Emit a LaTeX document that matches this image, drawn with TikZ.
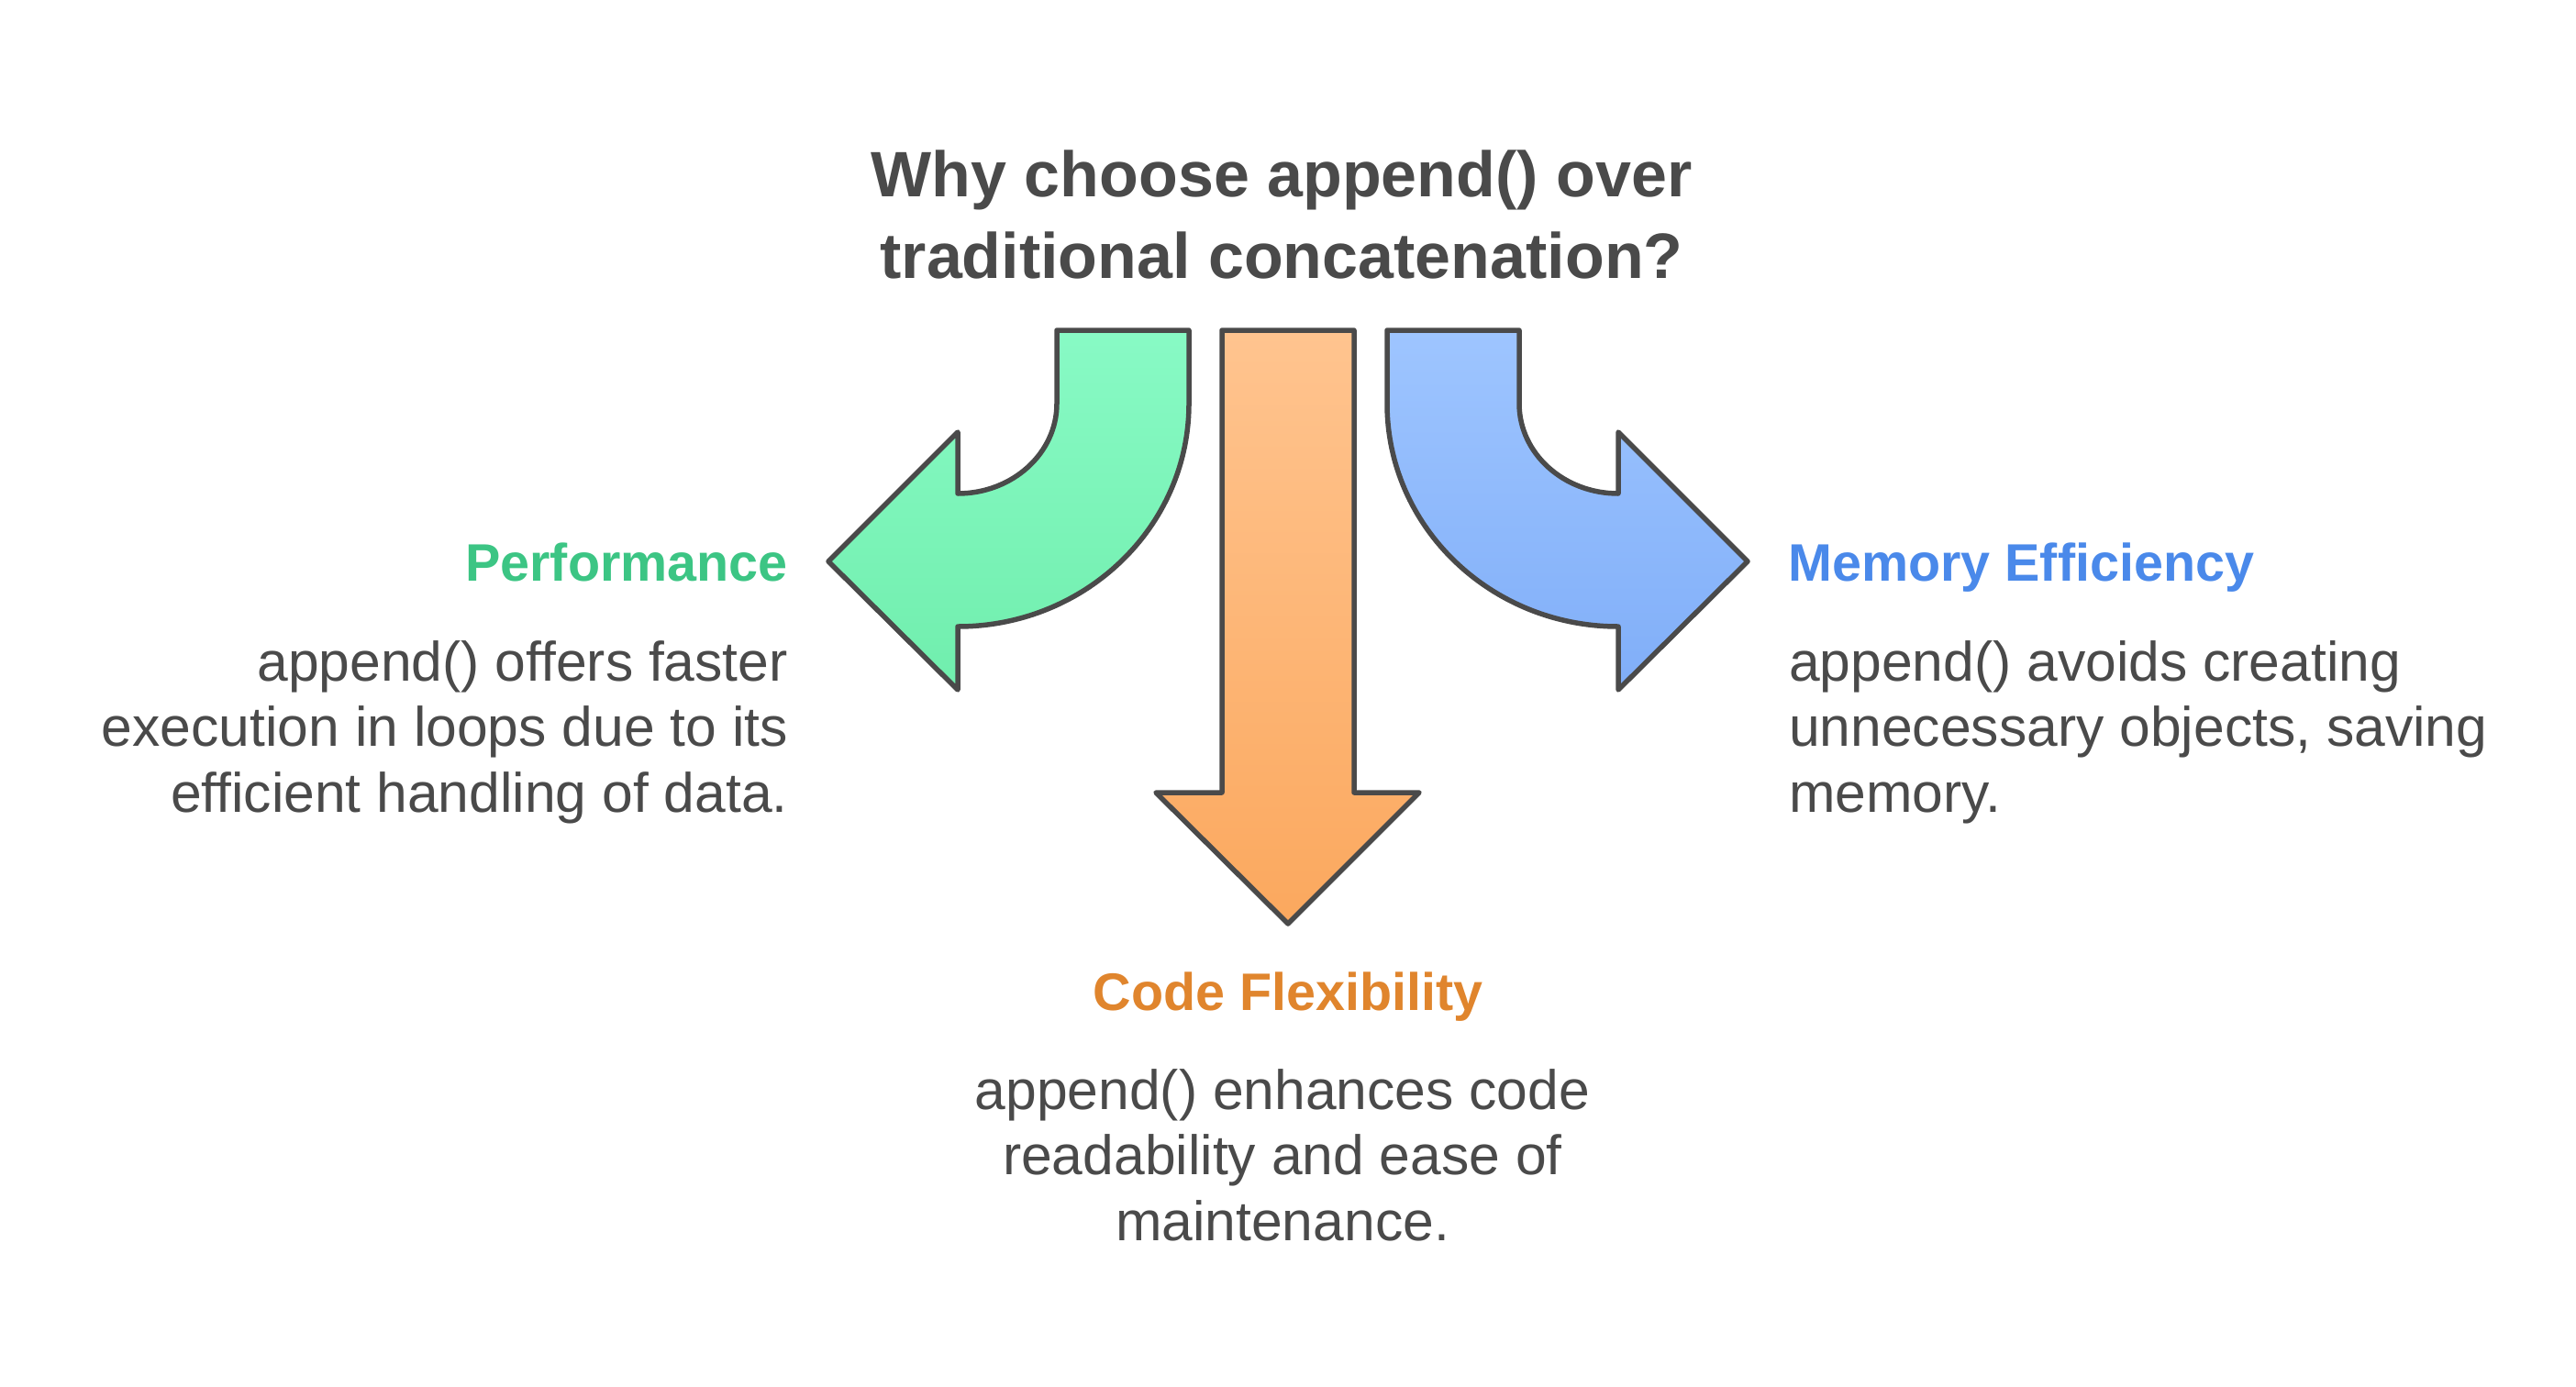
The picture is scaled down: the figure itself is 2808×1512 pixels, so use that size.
\documentclass[tikz,border=0pt]{standalone}
\usepackage{fontspec}
\setmainfont{Liberation Sans}
\definecolor{ink}{HTML}{4A4A4A}
\definecolor{edge}{HTML}{4A4A4A}
\definecolor{gtop}{HTML}{88FAC5}
\definecolor{gbot}{HTML}{70EEAD}
\definecolor{otop}{HTML}{FFC48F}
\definecolor{obot}{HTML}{FBA85E}
\definecolor{btop}{HTML}{9EC5FF}
\definecolor{bbot}{HTML}{80AEF8}
\definecolor{ghead}{HTML}{3CC584}
\definecolor{ohead}{HTML}{E0852D}
\definecolor{bhead}{HTML}{4A89EA}
\tikzset{
  arrowshape/.style={draw=edge, line width=5.5pt, line join=round},
  titletext/.style={font=\bfseries\fontsize{70}{89}\selectfont, text=ink, align=center, inner sep=0pt},
  headtext/.style={font=\bfseries\fontsize{57.5}{68}\selectfont, inner sep=0pt},
  bodytext/.style={font=\fontsize{60.6}{71.5}\selectfont, text=ink, inner sep=0pt},
}
\begin{document}
\begin{tikzpicture}[x=1pt,y=-1pt]
\useasboundingbox (0,0) rectangle (2808,1512);
\fill[white] (0,0) rectangle (2808,1512);

% title (base anchor = baseline of last line)
\node[titletext, anchor=base] (title) at (1397,303) {Why choose append() over\\traditional concatenation?};

% center arrow (orange)
\path[arrowshape, top color=otop, bottom color=obot]
  (1332,360) -- (1476,360) -- (1476,864) -- (1547,864) -- (1404,1007)
  -- (1260,864) -- (1332,864) -- cycle;

% left arrow (green)
\path[arrowshape, top color=gtop, bottom color=gbot]
  (1152,360) -- (1296,360) -- (1296,440)
  arc[start angle=0, end angle=90, x radius=252, y radius=243]
  -- (1044,752) -- (903,612) -- (1044,471) -- (1044,538)
  arc[start angle=90, end angle=0, x radius=108, y radius=98]
  -- cycle;

% right arrow (blue)
\path[arrowshape, top color=btop, bottom color=bbot]
  (1512,360) -- (1656,360) -- (1656,440)
  arc[start angle=180, end angle=90, x radius=108, y radius=98]
  -- (1764,471) -- (1905,612) -- (1764,752) -- (1764,683)
  arc[start angle=90, end angle=180, x radius=252, y radius=243]
  -- cycle;

% Performance
\node[headtext, text=ghead, anchor=base east] (perfh) at (859,633) {Performance};
\node[bodytext, align=right, anchor=base east] (perfb) at (859,885)
  {append() offers faster\\execution in loops due to its\\efficient handling of data.};

% Memory Efficiency
\node[headtext, text=bhead, anchor=base west] (memh) at (1949,633) {Memory Efficiency};
\node[bodytext, align=left, anchor=base west] (memb) at (1950,885)
  {append() avoids creating\\unnecessary objects, saving\\memory.};

% Code Flexibility
\node[headtext, text=ohead, anchor=base] (codeh) at (1404,1101) {Code Flexibility};
\node[bodytext, align=center, anchor=base] (codeb) at (1398,1352)
  {append() enhances code\\readability and ease of\\maintenance.};
\end{tikzpicture}
\end{document}
